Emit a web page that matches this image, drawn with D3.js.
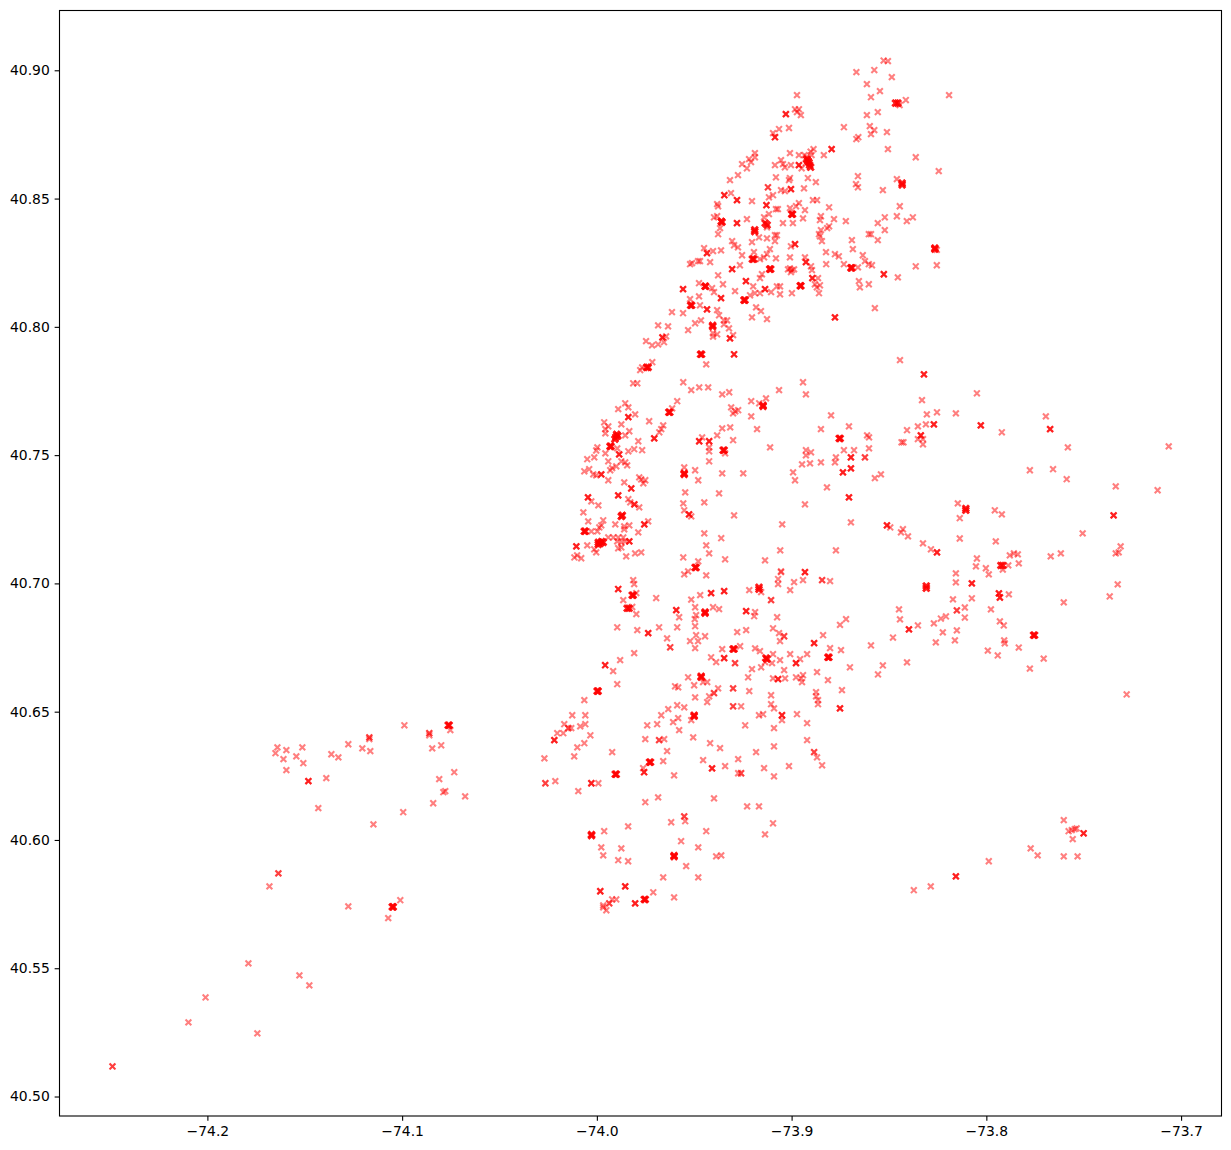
<!DOCTYPE html>
<html><head><meta charset="utf-8">
<script src="https://cdn.jsdelivr.net/npm/d3@7"></script>
<style>html,body{margin:0;padding:0;background:#fff}svg{display:block}text{font-family:"DejaVu Sans",sans-serif}</style>
</head><body><svg id="c" width="1231" height="1150"></svg>
<script>
const xTicks=[-74.2,-74.1,-74.0,-73.9,-73.8,-73.7];
const yTicks=[40.50,40.55,40.60,40.65,40.70,40.75,40.80,40.85,40.90];
const xDomain=[-74.2762,-73.6795];
const yDomain=[40.4926,40.9235];
const bronx=[[-73.853,40.904],[-73.8508,40.9038],[-73.867,40.8995],[-73.8578,40.9003],[-73.8488,40.8975],[-73.8616,40.8948],[-73.8549,40.8921],[-73.8595,40.8897],[-73.8975,40.8905],[-73.8194,40.8905],[-73.8416,40.8886],[-73.8448,40.8866],[-73.856,40.8839],[-73.8616,40.8827],[-73.8985,40.885],[-73.8965,40.885],[-73.8975,40.8839],[-73.8955,40.8827],[-73.8734,40.878],[-73.8601,40.8784],[-73.8578,40.8769],[-73.8595,40.8753],[-73.8513,40.8761],[-73.866,40.8741],[-73.867,40.8734],[-73.9067,40.8773],[-73.9016,40.8777],[-73.9098,40.8757],[-73.8508,40.8695],[-73.8365,40.8663],[-73.8247,40.8609],[-73.8662,40.8589],[-73.8462,40.8578],[-73.8672,40.8558],[-73.8662,40.8546],[-73.8534,40.8535],[-73.8447,40.8472],[-73.8462,40.8433],[-73.8524,40.8429],[-73.856,40.8406],[-73.838,40.8429],[-73.8411,40.8414],[-73.8524,40.8379],[-73.8606,40.8363],[-73.8595,40.8363],[-73.856,40.834],[-73.8257,40.8302],[-73.8257,40.8242],[-73.8365,40.8238],[-73.8457,40.8195],[-73.8575,40.8075]];
const upperManhattan=[[-73.9191,40.8679],[-73.9221,40.8656],[-73.9191,40.8663],[-73.9257,40.8636],[-73.9211,40.8644],[-73.9232,40.862],[-73.9278,40.8593],[-73.9319,40.8574],[-73.9314,40.8523],[-73.9385,40.848],[-73.938,40.8472],[-73.9206,40.8492],[-73.9232,40.8422],[-73.9401,40.8429],[-73.9385,40.8433],[-73.938,40.8363],[-73.937,40.8387],[-73.9011,40.8679],[-73.9088,40.8632],[-73.9057,40.8652],[-73.9047,40.8636],[-73.9037,40.8624],[-73.9006,40.8632],[-73.8965,40.8671],[-73.8936,40.8671],[-73.8925,40.8663],[-73.892,40.8656],[-73.8905,40.8685],[-73.889,40.8695],[-73.89,40.8671],[-73.8837,40.8671],[-73.893,40.864],[-73.8951,40.862],[-73.9083,40.8585],[-73.9011,40.8582],[-73.9016,40.8574],[-73.8919,40.8582],[-73.8878,40.8566],[-73.8939,40.8542],[-73.9124,40.8546],[-73.9124,40.8546],[-73.9057,40.8535],[-73.9037,40.8531],[-73.9098,40.8515],[-73.9119,40.8507],[-73.8893,40.8496],[-73.8872,40.8496],[-73.881,40.8468],[-73.8965,40.8484],[-73.898,40.8472],[-73.9011,40.8465],[-73.8934,40.8457],[-73.9083,40.8461],[-73.9073,40.8461],[-73.9119,40.8441],[-73.9144,40.8429],[-73.8944,40.8425],[-73.8852,40.8433],[-73.8857,40.8418],[-73.8785,40.8422],[-73.8724,40.8414],[-73.881,40.8394],[-73.882,40.8387],[-73.8852,40.8379],[-73.8862,40.8363],[-73.8857,40.8355],[-73.8847,40.8336],[-73.9047,40.8406],[-73.8996,40.8406],[-73.9129,40.839],[-73.9088,40.8359],[-73.9078,40.8359],[-73.9088,40.8336],[-73.9129,40.8347],[-73.917,40.8351],[-73.9206,40.8332],[-73.9308,40.8336],[-73.9298,40.832],[-73.9278,40.8312],[-73.9257,40.8281],[-73.9365,40.83],[-73.9406,40.8297],[-73.9452,40.8309],[-73.9421,40.8254],[-73.9524,40.8246],[-73.9514,40.825],[-73.9483,40.8258],[-73.9473,40.8258],[-73.9268,40.8242],[-73.9196,40.8293],[-73.9165,40.8266],[-73.9144,40.8273],[-73.9129,40.8285],[-73.9114,40.8305],[-73.9083,40.8269],[-73.9011,40.8273],[-73.9006,40.8316],[-73.8934,40.8273],[-73.9011,40.823],[-73.9001,40.8223],[-73.9006,40.8215],[-73.9021,40.8226],[-73.899,40.8226],[-73.8903,40.8238],[-73.8898,40.8223],[-73.8825,40.8246],[-73.8826,40.8293],[-73.878,40.8285],[-73.876,40.8277],[-73.8734,40.8246],[-73.8693,40.834],[-73.8688,40.8305],[-73.8637,40.8281],[-73.8626,40.8258],[-73.8606,40.8246],[-73.859,40.8242],[-73.8662,40.8234],[-73.8657,40.818],[-73.8652,40.8156],[-73.8606,40.8168],[-73.9155,40.8207],[-73.9165,40.8192],[-73.938,40.8203],[-73.9355,40.8168],[-73.9478,40.8172],[-73.9411,40.8153],[-73.9401,40.8137],[-73.9478,40.8121],[-73.9524,40.811],[-73.9293,40.8141],[-73.92,40.816],[-73.9216,40.8125],[-73.9191,40.8133],[-73.9165,40.8133],[-73.9108,40.8137],[-73.9078,40.816],[-73.9062,40.816],[-73.9062,40.8129],[-73.9001,40.8133],[-73.8867,40.8192],[-73.8883,40.8168],[-73.8857,40.8164],[-73.8873,40.8156],[-73.8862,40.8133],[-73.9185,40.8078],[-73.916,40.8063],[-73.9206,40.8039],[-73.9129,40.8032],[-73.956,40.8055],[-73.9473,40.8086],[-73.9468,40.8027],[-73.9498,40.8016],[-73.9534,40.7989],[-73.9385,40.8067],[-73.9375,40.8047],[-73.935,40.8027],[-73.9334,40.8027],[-73.935,40.8012],[-73.9324,40.7996],[-73.9406,40.7977],[-73.9385,40.7973],[-73.9406,40.7964],[-73.9303,40.797],[-73.9688,40.8008],[-73.9637,40.8004],[-73.9617,40.8059],[-73.9647,40.7965],[-73.975,40.7946],[-73.9719,40.793],[-73.9688,40.7934],[-73.9658,40.7942]];
const midManhattan=[[-73.9718,40.7864],[-73.977,40.7844],[-73.978,40.7833],[-73.9441,40.7856],[-73.9816,40.7782],[-73.9795,40.7782],[-73.9559,40.7786],[-73.9518,40.7755],[-73.9477,40.7766],[-73.9431,40.7766],[-73.9359,40.7739],[-73.9323,40.7747],[-73.9067,40.7755],[-73.959,40.7712],[-73.9616,40.7684],[-73.921,40.7712],[-73.9134,40.7723],[-73.9169,40.7704],[-73.9313,40.7688],[-73.9303,40.7665],[-73.9277,40.7677],[-73.9292,40.7673],[-73.921,40.7653],[-73.9857,40.7704],[-73.9841,40.7688],[-73.9893,40.7681],[-73.9806,40.7661],[-73.9965,40.763],[-73.9944,40.7614],[-73.9959,40.7603],[-73.9959,40.7587],[-73.9877,40.7622],[-73.9734,40.7634],[-73.9662,40.7618],[-73.9672,40.7603],[-73.9682,40.7591],[-73.9836,40.7595],[-73.9857,40.7579],[-73.979,40.7556],[-73.9359,40.7606],[-73.9318,40.761],[-73.9385,40.7579],[-73.9462,40.7571],[-73.9303,40.756],[-73.918,40.7603],[-73.9113,40.7532],[-73.9426,40.7532],[-73.9426,40.7517],[-73.9426,40.7478],[-73.9344,40.7509],[-73.9898,40.7528],[-73.9841,40.7517],[-73.9811,40.7525],[-73.977,40.7521],[-74,40.7532],[-74.0006,40.752],[-73.9959,40.7509],[-74.0016,40.7493],[-74.0052,40.7486],[-73.9944,40.7478],[-73.9877,40.7478],[-73.9857,40.7474],[-73.9847,40.7462],[-73.9903,40.7458],[-73.9934,40.7443],[-73.9924,40.7451],[-74.0067,40.7439],[-74.0042,40.7447],[-74.0021,40.7427],[-74.0006,40.7423],[-73.9944,40.7404],[-73.9862,40.7396],[-73.9785,40.7415],[-73.9775,40.7407],[-73.9754,40.7404],[-73.9764,40.7392],[-73.9498,40.7443],[-73.9554,40.7454],[-73.9482,40.7404],[-73.9359,40.7431],[-73.9251,40.7431],[-73.8995,40.7435],[-73.8985,40.7404],[-73.9549,40.7357],[-73.9375,40.7353],[-73.9559,40.7314],[-73.9451,40.7318],[-73.9554,40.7287],[-73.9518,40.7263],[-73.9298,40.7267],[-73.9051,40.7232],[-73.9841,40.733],[-73.9831,40.7318],[-73.9785,40.7298],[-74.0031,40.7322],[-73.9995,40.7306],[-74.0072,40.7279],[-74.0047,40.7244],[-73.997,40.7248],[-73.999,40.722],[-73.998,40.7228],[-74,40.7205],[-73.9908,40.7232],[-73.9862,40.7224],[-73.9836,40.7228],[-73.9862,40.7213],[-73.9739,40.7244],[-73.979,40.7201],[-73.9451,40.7197],[-73.9364,40.7178],[-73.9441,40.715],[-73.9426,40.7119],[-73.9061,40.7131],[-73.9559,40.7103],[-73.9344,40.7096],[-73.9139,40.7092],[-73.9482,40.7088],[-73.9057,40.7049],[-73.9534,40.7049],[-73.9554,40.7037],[-73.9441,40.7033],[-74.0052,40.715],[-74.0031,40.7205],[-73.9944,40.7181],[-73.9918,40.7181],[-73.9893,40.7181],[-73.9867,40.7181],[-73.9898,40.7166],[-73.9877,40.7162],[-73.9857,40.7166],[-73.9893,40.7139],[-73.9877,40.7142],[-73.9806,40.7119],[-73.9775,40.7123],[-73.9852,40.7107],[-74.0006,40.7123],[-74.0016,40.7135],[-74.0118,40.7103],[-74.0104,40.7111],[-74.0083,40.71]];
const brooklyn=[[-73.9816,40.7015],[-73.9811,40.6999],[-73.98,40.6964],[-73.9867,40.6937],[-73.9821,40.691],[-73.98,40.6882],[-73.9698,40.6945],[-73.9898,40.6831],[-73.9795,40.682],[-73.9683,40.6831],[-73.959,40.6831],[-73.9642,40.6788],[-73.9626,40.6753],[-73.9626,40.6753],[-73.9811,40.673],[-73.9883,40.6703],[-73.9919,40.666],[-73.9898,40.6609],[-73.9518,40.6939],[-73.9472,40.6956],[-73.9498,40.6909],[-73.9493,40.6878],[-73.958,40.687],[-73.95,40.6863],[-73.9498,40.6835],[-73.9406,40.6909],[-73.9375,40.6902],[-73.922,40.6976],[-73.9159,40.6968],[-73.9108,40.6937],[-73.9108,40.6937],[-73.9072,40.7019],[-73.9072,40.6999],[-73.9057,40.7046],[-73.901,40.6976],[-73.899,40.7007],[-73.8944,40.7015],[-73.8846,40.7015],[-73.8846,40.7015],[-73.8805,40.7011],[-73.919,40.689],[-73.9195,40.6874],[-73.9077,40.687],[-73.8723,40.6863],[-73.8754,40.684],[-73.9098,40.6827],[-73.9236,40.682],[-73.9282,40.6812],[-73.9067,40.6808],[-73.9041,40.6796],[-73.9041,40.6796],[-73.8841,40.68],[-73.9062,40.6777],[-73.9493,40.68],[-73.9447,40.6796],[-73.9524,40.6777],[-73.9483,40.6777],[-73.9498,40.675],[-73.9359,40.6746],[-73.9267,40.6757],[-73.9416,40.6714],[-73.939,40.6695],[-73.9293,40.6691],[-73.9293,40.6691],[-73.919,40.6749],[-73.9165,40.6738],[-73.9098,40.6726],[-73.901,40.6726],[-73.8923,40.6726],[-73.8805,40.675],[-73.8749,40.6742],[-73.8703,40.6675],[-73.9159,40.6675],[-73.9206,40.6668],[-73.9139,40.6695],[-73.9103,40.6691],[-73.9062,40.6703],[-73.9041,40.6664],[-73.8959,40.6707],[-73.8872,40.6656],[-73.9226,40.6636],[-73.9534,40.6636],[-73.9436,40.6617],[-73.9457,40.6617],[-73.9098,40.6632],[-73.9036,40.6632],[-73.898,40.6636],[-73.8944,40.6644],[-73.8954,40.6632],[-73.8949,40.6617],[-73.8816,40.6625],[-73.9503,40.6605],[-73.9601,40.6601],[-73.9585,40.6597],[-73.938,40.6593],[-73.8744,40.6586],[-73.922,40.6582],[-73.8877,40.6578],[-73.8877,40.6562],[-73.8867,40.6547],[-73.8867,40.6531],[-73.9108,40.6566],[-73.9498,40.6558],[-73.9426,40.6562],[-73.9436,40.6539],[-73.9303,40.6523],[-73.9303,40.6523],[-73.9262,40.6523],[-73.9108,40.6531],[-73.9093,40.6515],[-73.959,40.6527],[-73.9554,40.6519],[-73.9636,40.6512],[-73.9672,40.6488],[-73.9585,40.6477],[-73.9611,40.6461],[-73.9518,40.6469],[-73.917,40.6488],[-73.9149,40.6492],[-73.8975,40.6492],[-73.9052,40.6469],[-73.8923,40.6457],[-73.9241,40.6449],[-73.9093,40.6438],[-73.9693,40.6453],[-73.9744,40.6449],[-73.958,40.643],[-73.9508,40.6402],[-73.9754,40.6395],[-73.9683,40.6391],[-73.9683,40.6391],[-73.9657,40.6395],[-73.9421,40.6379],[-73.937,40.636],[-73.9093,40.6367],[-73.8923,40.6391],[-73.8887,40.6344],[-73.8887,40.6344],[-73.8872,40.6324],[-73.8846,40.6293],[-73.9185,40.6344],[-73.9642,40.6348],[-73.9924,40.6344],[-73.9662,40.6309],[-73.9457,40.6313],[-73.9277,40.6317],[-73.9344,40.629],[-73.9016,40.629],[-73.9144,40.6282],[-73.9277,40.6262],[-73.9262,40.6262],[-73.9262,40.6262],[-73.9093,40.625],[-73.9606,40.6254],[-73.9765,40.6282],[-73.9688,40.6168],[-73.9754,40.6149],[-73.9401,40.6164],[-73.9231,40.6133],[-73.917,40.6133],[-73.9621,40.6071],[-73.9549,40.6075],[-73.9098,40.6067],[-73.9842,40.6055],[-73.9303,40.6593],[-73.9303,40.6593],[-73.9401,40.6574],[-73.9401,40.6574],[-73.9554,40.6094],[-73.9554,40.6094]];
const southBrooklyn=[[-74.0067,40.6547],[-74.0129,40.6488],[-74.0062,40.6488],[-74.017,40.6453],[-74.0149,40.6438],[-74.0149,40.6438],[-74.0134,40.6438],[-74.0206,40.6418],[-74.0175,40.6418],[-74.0088,40.6445],[-74.0062,40.6453],[-74.0036,40.641],[-74.0067,40.6379],[-74.0103,40.6363],[-74.0119,40.6328],[-74.0272,40.632],[-74.0216,40.6231],[-74.0098,40.6192],[-73.9995,40.6223],[-74.0267,40.6223],[-74.0267,40.6223],[-73.9965,40.6036],[-73.9441,40.6036],[-73.957,40.5997],[-73.9482,40.5973],[-73.9139,40.6024],[-73.998,40.5973],[-73.997,40.5942],[-73.9877,40.5969],[-73.9893,40.5923],[-73.9842,40.5919],[-73.9544,40.59],[-73.939,40.5938],[-73.9364,40.5942],[-73.9662,40.5856],[-73.9482,40.5856],[-73.9713,40.5798],[-73.9606,40.5778],[-73.9903,40.577],[-73.9924,40.577],[-73.9939,40.5755],[-73.9939,40.5755],[-73.997,40.5747],[-73.997,40.5739],[-73.9954,40.5728]];
const queens=[[-73.8446,40.7872],[-73.8944,40.7786],[-73.8929,40.7739],[-73.8051,40.7743],[-73.8333,40.7716],[-73.8308,40.7661],[-73.8256,40.7669],[-73.8159,40.7665],[-73.7697,40.7653],[-73.88,40.7657],[-73.8852,40.7603],[-73.8708,40.7614],[-73.841,40.7599],[-73.8354,40.7614],[-73.8313,40.7622],[-73.8615,40.7579],[-73.8605,40.7571],[-73.7923,40.7591],[-73.7584,40.7532],[-73.7066,40.7536],[-73.8438,40.7552],[-73.8428,40.7552],[-73.8354,40.7564],[-73.8328,40.7564],[-73.8328,40.7544],[-73.8605,40.7528],[-73.8734,40.7521],[-73.8682,40.7521],[-73.8929,40.7521],[-73.8903,40.7513],[-73.8929,40.7501],[-73.8775,40.7493],[-73.8626,40.7493],[-73.8626,40.7493],[-73.8852,40.7474],[-73.878,40.7474],[-73.8908,40.747],[-73.8949,40.7466],[-73.7779,40.7443],[-73.766,40.7447],[-73.759,40.7408],[-73.8544,40.7427],[-73.8575,40.7412],[-73.8821,40.7376],[-73.7338,40.738],[-73.7123,40.7365],[-73.8934,40.731],[-73.8698,40.724],[-73.8149,40.7314],[-73.8139,40.7256],[-73.7959,40.7287],[-73.7923,40.7271],[-73.7508,40.7197],[-73.8496,40.722],[-73.8431,40.7213],[-73.8441,40.7201],[-73.8405,40.7185],[-73.8328,40.7158],[-73.8139,40.7177],[-73.7954,40.7166],[-73.8287,40.7135],[-73.8775,40.7131],[-73.7313,40.7146],[-73.7338,40.7119],[-73.7323,40.7123],[-73.7882,40.7111],[-73.7861,40.7119],[-73.7841,40.7115],[-73.7836,40.708],[-73.789,40.7072],[-73.7918,40.7056],[-73.762,40.7119],[-73.7672,40.7107],[-73.8051,40.7099],[-73.8056,40.7068],[-73.8005,40.7061],[-73.799,40.7037],[-73.8159,40.7041],[-73.8159,40.7006],[-73.7328,40.6998],[-73.7369,40.6951],[-73.7605,40.6928],[-73.7887,40.6959],[-73.8174,40.694],[-73.8077,40.6944],[-73.7979,40.6901],[-73.8451,40.6901],[-73.8446,40.6862],[-73.8113,40.6908],[-73.8154,40.6897],[-73.8154,40.6897],[-73.8113,40.6869],[-73.821,40.6873],[-73.8236,40.6865],[-73.8272,40.6846],[-73.8354,40.6838],[-73.7933,40.6854],[-73.7913,40.6838],[-73.8154,40.6819],[-73.8226,40.6811],[-73.8164,40.678],[-73.8262,40.6772],[-73.8482,40.6791],[-73.8595,40.676],[-73.7911,40.678],[-73.7908,40.6768],[-73.7836,40.6752],[-73.7995,40.674],[-73.7944,40.6721],[-73.7708,40.6709],[-73.7779,40.667],[-73.841,40.6694],[-73.8534,40.6682],[-73.8559,40.6647],[-73.7282,40.6569]];
const statenIsland=[[-74.0991,40.6449],[-74.0755,40.643],[-74.0863,40.6418],[-74.0863,40.6418],[-74.0863,40.641],[-74.1171,40.6402],[-74.1171,40.6402],[-74.1171,40.6395],[-74.1279,40.6375],[-74.1207,40.6359],[-74.1166,40.6348],[-74.1515,40.6363],[-74.1643,40.6363],[-74.1597,40.6352],[-74.1653,40.634],[-74.1546,40.6328],[-74.1612,40.6317],[-74.151,40.6301],[-74.1366,40.6336],[-74.133,40.6324],[-74.1597,40.6274],[-74.1392,40.6243],[-74.1433,40.6126],[-74.0802,40.6371],[-74.0848,40.6359],[-74.0735,40.6266],[-74.0812,40.6239],[-74.0791,40.6188],[-74.0781,40.6192],[-74.0679,40.6172],[-74.0843,40.6145],[-74.0997,40.611],[-74.115,40.6063],[-74.1638,40.5872],[-74.1638,40.5872],[-74.1684,40.5821],[-74.1279,40.5743],[-74.1012,40.5767],[-74.1074,40.5697],[-74.1792,40.5521],[-74.153,40.5474],[-74.1479,40.5435],[-74.2012,40.5388],[-74.21,40.5291],[-74.1746,40.5248],[-74.249,40.5119],[-74.249,40.5119]];
const rockaways=[[-73.8375,40.5806],[-73.8288,40.5821],[-73.799,40.5919],[-73.7775,40.5969],[-73.7739,40.5942],[-73.7605,40.6079],[-73.7605,40.5938],[-73.7534,40.5938],[-73.758,40.6036],[-73.7564,40.604],[-73.7539,40.6047],[-73.7549,40.6044],[-73.7559,40.6005]];
const boldNorth=[[-73.9032,40.8831],[-73.9088,40.8741],[-73.8797,40.8695],[-73.8469,40.8874],[-73.8457,40.8874],[-73.8435,40.8562],[-73.8435,40.8555],[-73.9348,40.8515],[-73.9283,40.8496],[-73.936,40.841],[-73.9364,40.8413],[-73.9283,40.8406],[-73.9192,40.838],[-73.9192,40.8373],[-73.9006,40.8539],[-73.9002,40.8441],[-73.8998,40.8441],[-73.8985,40.8324],[-73.9437,40.8289],[-73.9204,40.8266],[-73.9197,40.8266],[-73.9308,40.8227],[-73.9115,40.8227],[-73.911,40.8227],[-73.8929,40.8254],[-73.8698,40.8232],[-73.8693,40.8232],[-73.8529,40.8207],[-73.8267,40.8309],[-73.8267,40.8305],[-73.9237,40.818],[-73.8896,40.8192],[-73.8958,40.8162],[-73.8955,40.8162],[-73.956,40.8149],[-73.9447,40.816],[-73.9444,40.816],[-73.9139,40.8149],[-73.9365,40.8114],[-73.9247,40.8106],[-73.9242,40.8106],[-73.9521,40.8086],[-73.9516,40.8086],[-73.9437,40.807],[-73.9408,40.8008],[-73.9408,40.8003],[-73.9319,40.7957],[-73.878,40.8039],[-73.8965,40.8632],[-73.891,40.8632],[-73.8905,40.8624],[-73.8925,40.8655],[-73.8918,40.8648],[-73.8913,40.8642],[-73.9132,40.8476],[-73.9138,40.8406],[-73.9128,40.8399],[-73.9666,40.7961]];
const boldMiddle=[[-73.947,40.7895],[-73.9465,40.7895],[-73.9298,40.7895],[-73.9747,40.7844],[-73.9739,40.7844],[-73.9633,40.7669],[-73.9628,40.7669],[-73.9149,40.7696],[-73.9149,40.7692],[-73.9841,40.765],[-73.9708,40.7567],[-73.9901,40.7583],[-73.9895,40.7577],[-73.9905,40.7572],[-73.991,40.7564],[-73.9935,40.7536],[-73.993,40.7536],[-73.9888,40.7505],[-73.998,40.7427],[-73.9826,40.7372],[-74.0048,40.7337],[-73.9893,40.7345],[-73.981,40.731],[-73.9877,40.7263],[-73.9872,40.7267],[-73.9759,40.7232],[-74.0067,40.7205],[-74.0062,40.7205],[-74.0108,40.7146],[-73.9995,40.7162],[-73.9985,40.7158],[-73.9978,40.7165],[-73.997,40.7162],[-73.9995,40.7154],[-73.9836,40.7166],[-73.9554,40.7431],[-73.9554,40.7427],[-73.9477,40.7556],[-73.9426,40.7556],[-73.9354,40.7521],[-73.9349,40.7521],[-73.9529,40.7271],[-73.9498,40.7064],[-73.9493,40.7064],[-73.8323,40.7817],[-73.8272,40.7622],[-73.8031,40.7618],[-73.7675,40.7603],[-73.8339,40.7579],[-73.8758,40.7567],[-73.8753,40.7567],[-73.8698,40.7493],[-73.8698,40.745],[-73.8739,40.7435],[-73.8708,40.7337],[-73.8108,40.7294],[-73.8108,40.7287],[-73.7349,40.7267],[-73.8513,40.7228],[-73.8256,40.7123],[-73.7928,40.7072],[-73.7918,40.7072],[-73.8077,40.7002],[-73.8311,40.6992],[-73.8311,40.6983],[-73.7938,40.6963],[-73.7933,40.6947],[-73.84,40.6823],[-73.776,40.68],[-73.7755,40.68]];
const boldSouth=[[-73.9893,40.698],[-73.9821,40.6956],[-73.9816,40.6956],[-73.9847,40.6905],[-73.9837,40.6905],[-73.9595,40.6898],[-73.9447,40.689],[-73.9447,40.6886],[-73.9236,40.6894],[-73.917,40.6987],[-73.917,40.6979],[-73.9416,40.6964],[-73.9349,40.6972],[-73.9739,40.6808],[-73.8934,40.7046],[-73.9303,40.6746],[-73.9298,40.6746],[-73.9349,40.6711],[-73.9134,40.6711],[-73.9129,40.6707],[-73.898,40.6691],[-73.8887,40.6769],[-73.8816,40.6714],[-73.8811,40.6714],[-73.9467,40.664],[-73.9467,40.6636],[-73.9072,40.6629],[-73.8754,40.6515],[-73.9052,40.6488],[-73.9503,40.6488],[-73.9503,40.6484],[-73.996,40.6683],[-73.9732,40.6305],[-73.9727,40.6305],[-73.976,40.6266],[-73.9908,40.6258],[-73.9903,40.6258],[-73.9411,40.6281],[-74.0001,40.6582],[-73.9996,40.6582],[-74.0221,40.6391],[-74.003,40.6023],[-74.003,40.6019],[-73.9606,40.5941],[-73.9606,40.5937],[-73.9985,40.5802],[-73.9857,40.5821],[-73.9806,40.5755],[-73.9759,40.577],[-73.9754,40.577],[-74.0031,40.6223],[-74.0766,40.6449],[-74.0761,40.6449],[-74.1484,40.6231],[-74.1053,40.5741],[-74.1048,40.5741],[-73.8159,40.586],[-73.7503,40.6028]];

const singles=[...bronx,...upperManhattan,...midManhattan,...brooklyn,...southBrooklyn,...queens,...statenIsland,...rockaways];
const bold=[...boldNorth,...boldMiddle,...boldSouth];
const boldRepeat=3;

const L=59.5,R=1221.5,T=10.5,B=1116;
const x=d3.scaleLinear().domain(xDomain).range([L,R]);
const y=d3.scaleLinear().domain(yDomain).range([B,T]);
const svg=d3.select('#c');

const h=2.9;
const marker=hw=>`M${-hw},${-hw}L${hw},${hw}M${-hw},${hw}L${hw},${-hw}`;
const drawMarks=(data,hw,sw)=>svg.append('g').selectAll('path').data(data).join('path')
  .attr('d',marker(hw))
  .attr('transform',d=>`translate(${x(d[0])},${y(d[1])})`)
  .attr('fill','none').attr('stroke','#ff0000').attr('stroke-opacity',0.5).attr('stroke-width',sw);

drawMarks(singles,h,2.08);
const isPaired=(p,i)=>bold.some((q,j)=>j!==i&&Math.hypot(x(p[0])-x(q[0]),y(p[1])-y(q[1]))<3);
const paired=bold.filter(isPaired);
const lone=bold.filter((p,i)=>!isPaired(p,i));
for(let i=0;i<boldRepeat;i++){drawMarks(lone,h,2.08);drawMarks(paired,3.1,2.7);}

const fmtX=d=>d3.format('.1f')(d).replace('-','\u2212');
const gx=svg.append('g').attr('transform',`translate(0,${B})`).call(d3.axisBottom(x).tickValues(xTicks).tickFormat(fmtX).tickSize(4.86).tickPadding(4.9).offset(0));
const gy=svg.append('g').attr('transform',`translate(${L},0)`).call(d3.axisLeft(y).tickValues(yTicks).tickFormat(d3.format('.2f')).tickSize(4.86).tickPadding(4.9).offset(0));
[gx,gy].forEach(g=>{
  g.select('.domain').remove();
  g.selectAll('line').attr('stroke','#000').attr('stroke-width',1.1);
  g.selectAll('text').attr('fill','#000').style('font-size','13.9px').style('font-family','"DejaVu Sans",sans-serif');
});
svg.append('rect').attr('x',L).attr('y',T).attr('width',R-L).attr('height',B-T).attr('fill','none').attr('stroke','#000').attr('stroke-width',1.1);
</script></body></html>
